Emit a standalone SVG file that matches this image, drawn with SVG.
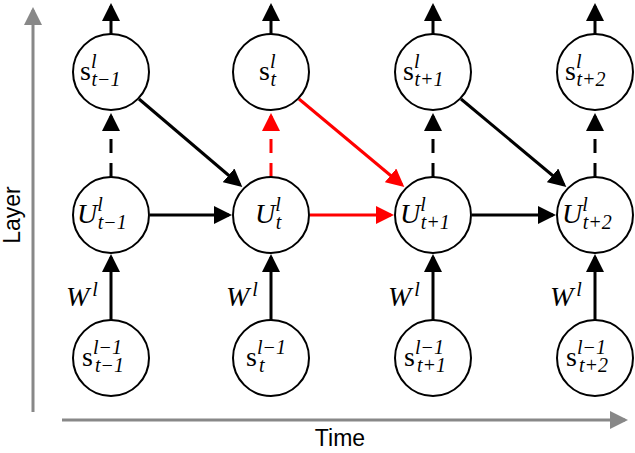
<svg xmlns="http://www.w3.org/2000/svg" width="635" height="453" viewBox="0 0 635 453">
<style>
.n circle{fill:#fff;stroke:#000;stroke-width:2}
.e{stroke:#000;stroke-width:3;fill:none}
.r{stroke:#f00}
.d{stroke-dasharray:14,10}
.lab{font-family:"Liberation Sans",sans-serif;font-size:23px}
</style>
<defs>
<marker id="a" markerWidth="6" markerHeight="6" refX="5" refY="3" orient="auto" markerUnits="strokeWidth" viewBox="0 0 6 6"><path d="M0,0L6,3L0,6z" fill="#000"/></marker>
<marker id="ar" markerWidth="6" markerHeight="6" refX="5" refY="3" orient="auto" markerUnits="strokeWidth" viewBox="0 0 6 6"><path d="M0,0L6,3L0,6z" fill="#f00"/></marker>
<marker id="ag" markerWidth="6" markerHeight="6" refX="5" refY="3" orient="auto" markerUnits="strokeWidth" viewBox="0 0 6 6"><path d="M0,0L6,3L0,6z" fill="#888"/></marker>
</defs>
<g id="axes">
<line x1="33" y1="412" x2="33" y2="10" stroke="#888" stroke-width="3" marker-end="url(#ag)"/>
<line x1="62" y1="420" x2="625" y2="420" stroke="#888" stroke-width="3" marker-end="url(#ag)"/>
<text class="lab" transform="translate(20,215) rotate(-90)" text-anchor="middle">Layer</text>
<text class="lab" x="340" y="446" text-anchor="middle">Time</text>
</g>
<g id="connectors">
<line class="e" x1="111" y1="34" x2="111" y2="6" marker-end="url(#a)"/>
<line class="e" x1="271" y1="34" x2="271" y2="6" marker-end="url(#a)"/>
<line class="e" x1="433" y1="34" x2="433" y2="6" marker-end="url(#a)"/>
<line class="e" x1="595" y1="34" x2="595" y2="6" marker-end="url(#a)"/>
<line class="e d" x1="111" y1="177" x2="111" y2="116" marker-end="url(#a)"/>
<line class="e d r" x1="271" y1="177" x2="271" y2="116" marker-end="url(#ar)"/>
<line class="e d" x1="433" y1="177" x2="433" y2="116" marker-end="url(#a)"/>
<line class="e d" x1="595" y1="177" x2="595" y2="116" marker-end="url(#a)"/>
<line class="e" x1="139" y1="99" x2="240" y2="185" marker-end="url(#a)"/>
<line class="e r" x1="299" y1="99" x2="402" y2="185" marker-end="url(#ar)"/>
<line class="e" x1="461" y1="99" x2="564" y2="185" marker-end="url(#a)"/>
<line class="e" x1="150" y1="215" x2="229" y2="215" marker-end="url(#a)"/>
<line class="e r" x1="310" y1="215" x2="391" y2="215" marker-end="url(#ar)"/>
<line class="e" x1="472" y1="215" x2="553" y2="215" marker-end="url(#a)"/>
<line class="e" x1="111" y1="320" x2="111" y2="257" marker-end="url(#a)"/>
<line class="e" x1="271" y1="320" x2="271" y2="257" marker-end="url(#a)"/>
<line class="e" x1="433" y1="320" x2="433" y2="257" marker-end="url(#a)"/>
<line class="e" x1="595" y1="320" x2="595" y2="257" marker-end="url(#a)"/>
</g>
<g font-family="Liberation Serif, serif" font-style="italic" font-size="28">
<text x="66" y="306">W<tspan font-size="20" dx="3" dy="-10">l</tspan></text>
<text x="226" y="306">W<tspan font-size="20" dx="3" dy="-10">l</tspan></text>
<text x="388" y="306">W<tspan font-size="20" dx="3" dy="-10">l</tspan></text>
<text x="550" y="306">W<tspan font-size="20" dx="3" dy="-10">l</tspan></text>
</g>
<g font-family="Liberation Serif, serif" font-size="28">
<g id="s1" class="n"><circle cx="111" cy="72" r="38"/><text x="80" y="80">s<tspan font-size="20" font-style="italic" dy="-12">l</tspan><tspan font-size="20" font-style="italic" dx="-5" dy="18">t−1</tspan></text></g>
<g id="s2" class="n"><circle cx="271" cy="72" r="38"/><text x="259" y="80">s<tspan font-size="20" font-style="italic" dy="-12">l</tspan><tspan font-size="20" font-style="italic" dx="-5" dy="18">t</tspan></text></g>
<g id="s3" class="n"><circle cx="433" cy="72" r="38"/><text x="403" y="80">s<tspan font-size="20" font-style="italic" dy="-12">l</tspan><tspan font-size="20" font-style="italic" dx="-5" dy="18">t+1</tspan></text></g>
<g id="s4" class="n"><circle cx="595" cy="72" r="38"/><text x="565" y="80">s<tspan font-size="20" font-style="italic" dy="-12">l</tspan><tspan font-size="20" font-style="italic" dx="-5" dy="18">t+2</tspan></text></g>
<g id="u1" class="n"><circle cx="111" cy="215" r="38"/><text x="77" y="223" font-style="italic">U<tspan font-size="20" dy="-12">l</tspan><tspan font-size="20" dx="-5" dy="18">t−1</tspan></text></g>
<g id="u2" class="n"><circle cx="271" cy="215" r="38"/><text x="255" y="223" font-style="italic">U<tspan font-size="20" dy="-12">l</tspan><tspan font-size="20" dx="-5" dy="18">t</tspan></text></g>
<g id="u3" class="n"><circle cx="433" cy="215" r="38"/><text x="400" y="223" font-style="italic">U<tspan font-size="20" dy="-12">l</tspan><tspan font-size="20" dx="-5" dy="18">t+1</tspan></text></g>
<g id="u4" class="n"><circle cx="595" cy="215" r="38"/><text x="562" y="223" font-style="italic">U<tspan font-size="20" dy="-12">l</tspan><tspan font-size="20" dx="-5" dy="18">t+2</tspan></text></g>
<g id="b1" class="n"><circle cx="111" cy="358" r="38"/><text x="82" y="366">s<tspan font-size="20" font-style="italic" dy="-12">l−1</tspan><tspan font-size="20" font-style="italic" dx="-27" dy="18">t−1</tspan></text></g>
<g id="b2" class="n"><circle cx="271" cy="358" r="38"/><text x="246" y="366">s<tspan font-size="20" font-style="italic" dy="-12">l−1</tspan><tspan font-size="20" font-style="italic" dx="-27" dy="18">t</tspan></text></g>
<g id="b3" class="n"><circle cx="433" cy="358" r="38"/><text x="404" y="366">s<tspan font-size="20" font-style="italic" dy="-12">l−1</tspan><tspan font-size="20" font-style="italic" dx="-27" dy="18">t+1</tspan></text></g>
<g id="b4" class="n"><circle cx="595" cy="358" r="38"/><text x="566" y="366">s<tspan font-size="20" font-style="italic" dy="-12">l−1</tspan><tspan font-size="20" font-style="italic" dx="-27" dy="18">t+2</tspan></text></g>
</g>
</svg>
